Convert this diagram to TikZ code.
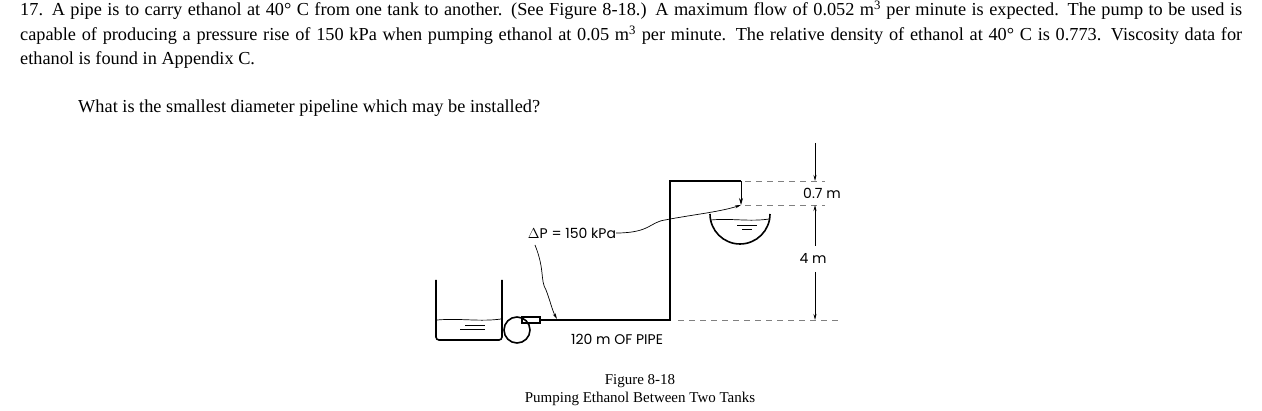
\documentclass[tikz,border=0pt]{standalone}
\usepackage{fontspec}
\setmainfont{Liberation Serif}
\newfontfamily\figfont{Poppins}
\usetikzlibrary{arrows.meta,decorations.pathmorphing}
\begin{document}
\begin{tikzpicture}[x=1pt,y=-1pt,
  pipe/.style={line width=1.6pt},
  thin/.style={line width=0.7pt},
  dashline/.style={dashed,dash pattern=on 6pt off 5pt,line width=0.7pt,gray},
  lbl/.style={font=\figfont\fontsize{14}{16}\selectfont,inner sep=0pt},
  lead/.style={line width=0.7pt,-{Stealth[length=6pt,width=3pt]}},
  dim/.style={line width=0.7pt,-{Stealth[length=6pt,width=3pt]}}]
\useasboundingbox (0,0) rectangle (1262,411);
\node[anchor=north west,inner sep=0pt,text width=1222pt,align=justify,font=\fontsize{18.3}{24.5}\selectfont] (para) at (20,1)
{17. A pipe is to carry ethanol at 40° C from one tank to another. (See Figure 8-18.) A maximum flow of 0.052 m\textsuperscript{3} per minute is expected. The pump to be used is\linebreak capable of producing a pressure rise of 150 kPa when pumping ethanol at 0.05 m\textsuperscript{3} per minute. The relative density of ethanol at 40° C is 0.773. Viscosity data for\linebreak ethanol is found in Appendix C.};
\node[anchor=base west,inner sep=0pt,font=\fontsize{18.3}{20}\selectfont] (q) at (78,113) {What is the smallest diameter pipeline which may be installed?};
% left tank
\draw[pipe,rounded corners=3pt] (436,280) -- (436,340) -- (502,340) -- (502,280);
\draw[thin] (437,320) .. controls (460,318) and (480,322) .. (501,319);
\draw[thin] (465,325) -- (485,325) (460,329) -- (485,329);
% pump
\node[draw,circle,pipe,minimum size=26pt,inner sep=0pt] (pump) at (517,330) {};
\draw[pipe] (522,317) rectangle (540,323);
\coordinate (p0) at (540,320);
\coordinate (p1) at (670,320);
\coordinate (p2) at (670,181);
\coordinate (p3) at (741,181);
\coordinate (p4) at (741,205);
\draw[pipe] (p0) -- (p1) -- (p2) -- (p3);
\draw[thin,-{Stealth[length=7pt,width=4pt]}] (p3) -- (p4);
% right bowl
\draw[pipe] (710,214) arc[start angle=180,end angle=0,radius=30];
\draw[thin] (711,220) .. controls (730,218) and (750,222) .. (769,219);
\draw[thin] (737,225) -- (757,225) (742,229) -- (752,229);
% dashed lines
\draw[dashline] (745,181) -- (825,181);
\draw[dashline] (745,205) -- (825,205);
\draw[dashline] (678,320) -- (840,320);
% dimensions
\coordinate (d0) at (815,143);
\coordinate (d1) at (815,181);
\coordinate (d2) at (815,205);
\coordinate (d3) at (815,320);
\coordinate (a4) at (815,246);
\coordinate (b4) at (815,272);
\draw[dim] (d0) -- (d1);
\node[lbl] (l07) at (822,193) {0.7 m};
\node[lbl] (l4) at (813,258) {4 m};
\draw[dim] (a4) -- (d2);
\draw[dim] (b4) -- (d3);
% labels
\node[lbl] (dp) at (572,233) {$\Delta$P = 150 kPa};
\node[lbl] (pipelbl) at (617,339) {120 m OF PIPE};
\draw[lead] (dp.east) .. controls (650,233) and (650,222) .. (665,220) .. controls (690,215) and (720,212) .. (p4);
\draw[lead] (535,245) .. controls (545,270) and (540,280) .. (546,290) .. controls (550,300) and (552,310) .. (557,319);
% caption
\node[font=\fontsize{15}{17}\selectfont,inner sep=0pt] (cap1) at (640,381) {Figure 8-18};
\node[font=\fontsize{15}{17}\selectfont,inner sep=0pt] (cap2) at (640,399) {Pumping Ethanol Between Two Tanks};
\end{tikzpicture}
\end{document}
